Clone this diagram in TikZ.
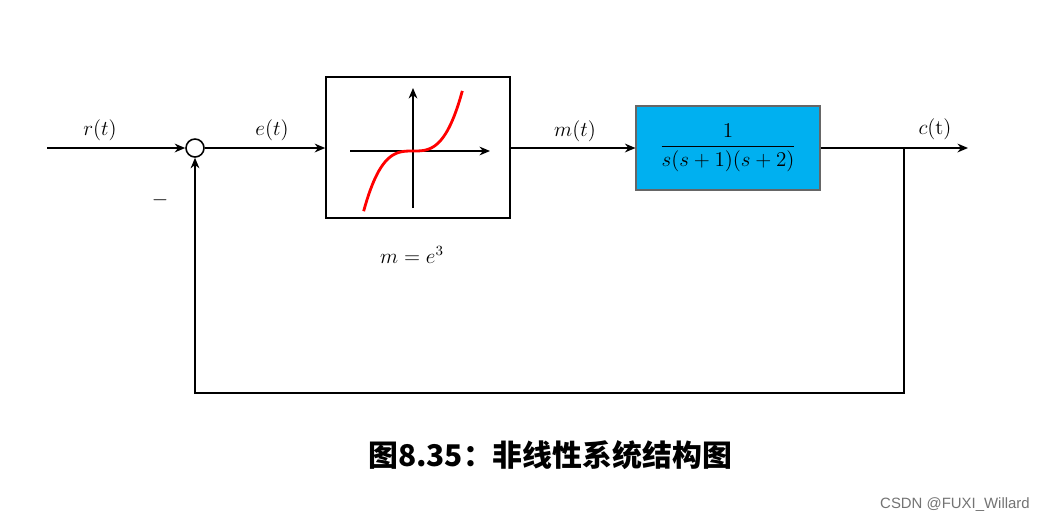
\documentclass[tikz,border=0pt]{standalone}
\usepackage{fontspec}
\newfontfamily\cjk{Noto Sans CJK SC}
\newfontfamily\wm{Liberation Sans}
\usetikzlibrary{arrows.meta}
\begin{document}
\begin{tikzpicture}[x=0.02cm,y=-0.02cm,
  line/.style={line width=0.9pt},
  arr/.style={line, -{Stealth[length=6pt,width=5pt]}},
  lab/.style={font=\large}]
\useasboundingbox (0,0) rectangle (1051,522);
\coordinate (in) at (47,148);
\node[circle,draw,line width=0.9pt,minimum size=18*0.02cm,inner sep=0] (sum) at (195,148) {};
\node[draw,line width=0.9pt,minimum width=184*0.02cm,minimum height=141*0.02cm] (nl) at (418,147.5) {};
\node[draw=black!60,fill=cyan!70!blue!60,fill={rgb,255:red,0;green,176;blue,240},line width=0.6pt,minimum width=184*0.02cm,minimum height=84*0.02cm,inner sep=0] (g) at (728,148) {};
\node at (g) {\large $\displaystyle\frac{1}{s(s+1)(s+2)}$};
\coordinate (out) at (968,148);
\coordinate (br) at (904,148);
\coordinate (bl) at (904,393);
\coordinate (fl) at (195,393);
\draw[arr] (in) -- (sum);
\draw[arr] (sum) -- (nl.west |- sum);
\draw[arr] (nl.east |- sum) -- (g.west |- sum);
\draw[arr] (g.east |- sum) -- (out);
\draw[arr] (br) -- (bl) -- (fl) -- (sum.south);
% axes
\draw[arr,line width=0.7pt] (350,151) -- (490,151);
\draw[arr,line width=0.7pt] (413,208) -- (413,88);
\draw[red,line width=1.6pt] plot[domain=-1.05:1.05,samples=60] ({413+47*\x},{151-52*\x*\x*\x});
\node[lab] at (100,130) {$r(t)$};
\node[lab] at (272,130) {$e(t)$};
\node[lab] at (575,131) {$m(t)$};
\node[lab] at (935,129) {$c(\mathrm{t})$};
\node[lab] at (412,255) {$m=e^3$};
\node[lab] at (160,200) {$-$};
\node[font=\cjk\bfseries\fontsize{17}{20}\selectfont] (cap) at (550,455) {图8.35：非线性系统结构图};
\node[font=\wm\fontsize{8.5}{10}\selectfont,text=black!55] (wmk) at (955,505) {CSDN @FUXI\_Willard};
\end{tikzpicture}
\end{document}
